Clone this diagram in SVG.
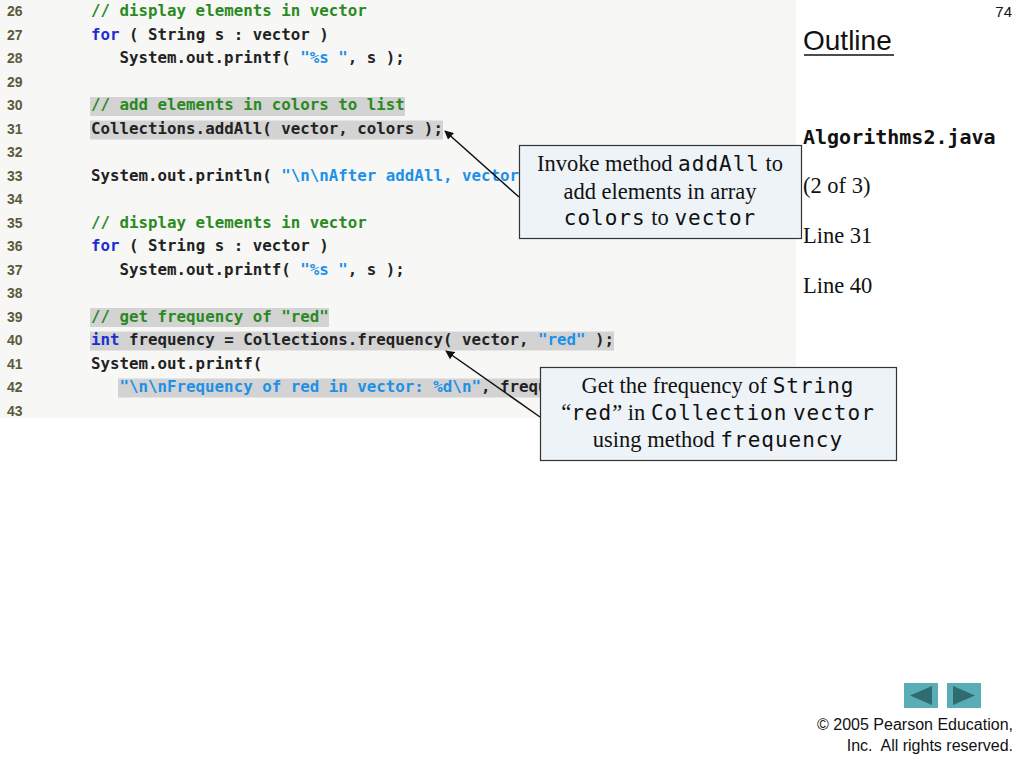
<svg xmlns="http://www.w3.org/2000/svg" width="1024" height="768" viewBox="0 0 1024 768">
<defs>
<style>
.ln{font-family:"Liberation Sans",Arial,sans-serif;font-weight:bold;font-size:14px;fill:#5b5b3b}
.code{font-family:"DejaVu Sans Mono",monospace;font-weight:bold;font-size:15.8px;fill:#222}
.cm{fill:#2a8a1e}
.kw{fill:#1a2fd0}
.st{fill:#2090e8}
.hl{fill:#d3d3d3}
.box{fill:#eef3f8;stroke:#333;stroke-width:1.2}
.ct{font-family:"Liberation Serif","Times New Roman",serif;font-size:22.5px;fill:#111}
.mo{font-family:"DejaVu Sans Mono",monospace;font-size:21px;letter-spacing:1px}
.side{font-family:"Liberation Serif","Times New Roman",serif;font-size:22.5px;fill:#111}
.sans{font-family:"Liberation Sans",Arial,sans-serif;fill:#111}
.conn{stroke:#111;stroke-width:1.5;fill:none;marker-end:url(#ah)}
.nav{fill:#5aacb5}
.tri{fill:#2f6c72}
</style>
<marker id="ah" viewBox="0 0 10 10" refX="9" refY="5" markerWidth="9" markerHeight="9" markerUnits="userSpaceOnUse" orient="auto"><path d="M0,0 L10,5 L0,10 z" fill="#111"/></marker>
</defs>
<rect x="0" y="0" width="1024" height="768" fill="#ffffff"/>
<g id="code-panel">
<rect x="0" y="0" width="796" height="418" fill="#f7f7f6"/>
<rect class="hl" x="90" y="97" width="315" height="19"/>
<rect class="hl" x="90" y="120.5" width="353" height="19"/>
<rect class="hl" x="90" y="308" width="239" height="19"/>
<rect class="hl" x="90" y="331.5" width="524" height="19"/>
<rect class="hl" x="118" y="378.5" width="430" height="19"/>
<g class="ln">
<text x="7" y="16">26</text><text x="7" y="39.5">27</text><text x="7" y="63">28</text><text x="7" y="86.5">29</text>
<text x="7" y="110">30</text><text x="7" y="133.5">31</text><text x="7" y="157">32</text><text x="7" y="180.5">33</text>
<text x="7" y="204">34</text><text x="7" y="227.5">35</text><text x="7" y="251">36</text><text x="7" y="274.5">37</text>
<text x="7" y="298">38</text><text x="7" y="321.5">39</text><text x="7" y="345">40</text><text x="7" y="368.5">41</text>
<text x="7" y="392">42</text><text x="7" y="415.5">43</text>
</g>
<g class="code" xml:space="preserve">
<text x="91" y="16" class="cm">// display elements in vector</text>
<text x="91" y="39.5"><tspan class="kw">for</tspan> ( String s : vector )</text>
<text x="119.5" y="63">System.out.printf( <tspan class="st">"%s "</tspan>, s );</text>
<text x="91" y="110" class="cm">// add elements in colors to list</text>
<text x="91" y="133.5">Collections.addAll( vector, colors );</text>
<text x="91" y="180.5">System.out.println( <tspan class="st">"\n\nAfter addAll, vector</tspan></text>
<text x="91" y="227.5" class="cm">// display elements in vector</text>
<text x="91" y="251"><tspan class="kw">for</tspan> ( String s : vector )</text>
<text x="119.5" y="274.5">System.out.printf( <tspan class="st">"%s "</tspan>, s );</text>
<text x="91" y="321.5" class="cm">// get frequency of "red"</text>
<text x="91" y="345"><tspan class="kw">int</tspan> frequency = Collections.frequency( vector, <tspan class="st">"red"</tspan> );</text>
<text x="91" y="368.5">System.out.printf(</text>
<text x="119.5" y="392"><tspan class="st">"\n\nFrequency of red in vector: %d\n"</tspan>, frequ</text>
</g>
</g>
<g id="connectors">
<line class="conn" x1="519" y1="197" x2="445" y2="131"/>
<line class="conn" x1="540" y1="417" x2="446" y2="351"/>
</g>
<g id="callout-addAll">
<rect class="box" x="519.5" y="145.5" width="282" height="93"/>
<text class="ct" x="660" y="171" text-anchor="middle">Invoke method <tspan class="mo">addAll</tspan> to</text>
<text class="ct" x="660" y="199" text-anchor="middle">add elements in array</text>
<text class="ct" x="660" y="225" text-anchor="middle"><tspan class="mo">colors</tspan> to <tspan class="mo">vector</tspan></text>
</g>
<g id="callout-frequency">
<rect class="box" x="540.5" y="367.5" width="356" height="93"/>
<text class="ct" x="718" y="393" text-anchor="middle">Get the frequency of <tspan class="mo">String</tspan></text>
<text class="ct" x="718" y="420" text-anchor="middle">“<tspan class="mo">red</tspan>” in <tspan class="mo">Collection</tspan> <tspan class="mo">vector</tspan></text>
<text class="ct" x="718" y="447" text-anchor="middle">using method <tspan class="mo">frequency</tspan></text>
</g>
<g id="sidebar">
<text class="sans" x="1012" y="17" font-size="15" text-anchor="end">74</text>
<text class="sans" x="803" y="50" font-size="28">Outline</text>
<line x1="804" y1="55" x2="894" y2="55" stroke="#111" stroke-width="1.5"/>
<text x="803" y="144" font-family="DejaVu Sans Mono,monospace" font-weight="bold" font-size="20" fill="#111">Algorithms2.java</text>
<text class="side" x="803" y="193">(2 of 3)</text>
<text class="side" x="803" y="243">Line 31</text>
<text class="side" x="803" y="293">Line 40</text>
</g>
<g id="nav">
<rect class="nav" x="904" y="683" width="34" height="25"/>
<path class="tri" d="M910,695.5 L932,686 L932,705 z"/>
<rect class="nav" x="947" y="683" width="34" height="25"/>
<path class="tri" d="M975,695.5 L953,686 L953,705 z"/>
</g>
<g id="footer" class="sans" font-size="16">
<text x="1013" y="730" text-anchor="end">© 2005 Pearson Education,</text>
<text x="1013" y="751" text-anchor="end" xml:space="preserve">Inc.  All rights reserved.</text>
</g>
</svg>
